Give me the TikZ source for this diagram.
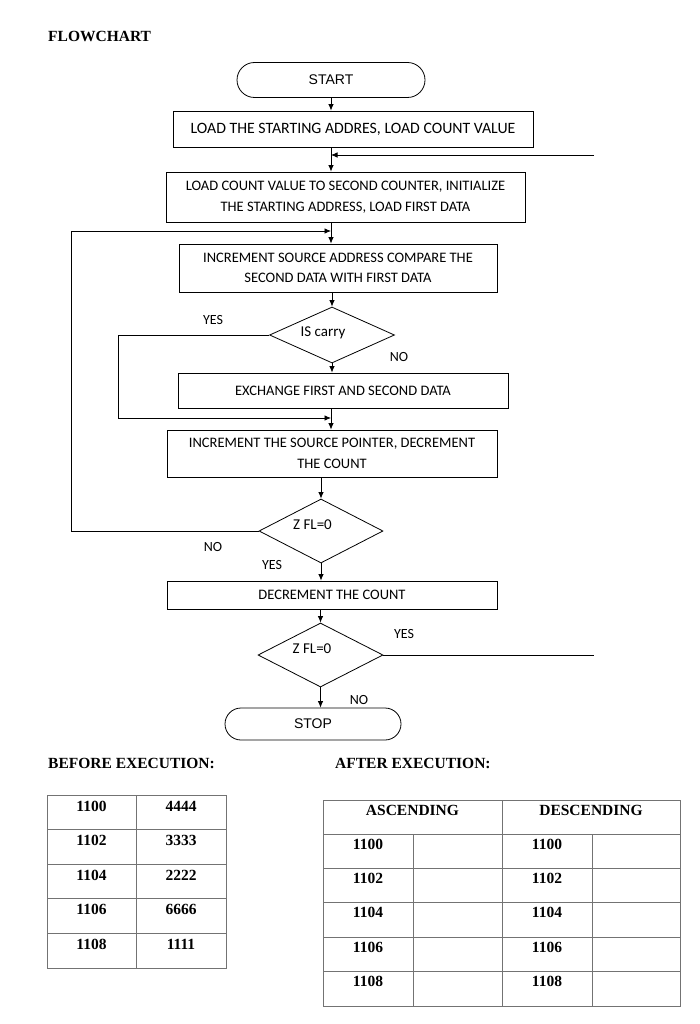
\documentclass[tikz,border=0pt]{standalone}
\usepackage{fontspec}
\setmainfont{Liberation Serif}
\newfontfamily\calibfont{Carlito}
\newfontfamily\arialfont{Liberation Sans}
\usetikzlibrary{shapes.geometric,shapes.misc,arrows.meta}

\begin{document}
\begin{tikzpicture}[x=1pt,y=-1pt,
  every node/.style={inner sep=0pt},
  heading/.style={font=\bfseries\fontsize{15.5}{18}\selectfont},
  box/.style={draw,rectangle,line width=0.8pt,align=center,font=\calibfont\fontsize{14.5}{20.5}\selectfont},
  dec/.style={draw,diamond,line width=0.8pt},
  dectext/.style={font=\calibfont\fontsize{15}{18}\selectfont},
  term/.style={draw,rounded rectangle,line width=0.8pt,font=\arialfont\fontsize{14}{16}\selectfont},
  lbl/.style={font=\calibfont\fontsize{14}{16}\selectfont},
  arr/.style={line width=0.8pt,-{Latex[length=6.5pt,width=5.5pt]}},
  grid/.style={draw=black!55,line width=0.8pt},
  cell/.style={font=\bfseries\fontsize{15.5}{18}\selectfont}]
  \useasboundingbox (0,0) rectangle (700,1024);
  \node[heading,anchor=west] (title) at (48,36) {FLOWCHART};

  \node[term,minimum width=188,minimum height=35] (start) at (331,80) {START};
  \node[box,minimum width=360,minimum height=36,font=\calibfont\fontsize{15.8}{19}\selectfont] (load) at (353,129) {LOAD THE STARTING ADDRES, LOAD COUNT VALUE};
  \node[box,minimum width=359,minimum height=50] (init) at (345.5,197) {LOAD COUNT VALUE TO SECOND COUNTER, INITIALIZE\\THE STARTING ADDRESS, LOAD FIRST DATA};
  \node[box,minimum width=318,minimum height=48] (cmp) at (338,268) {INCREMENT SOURCE ADDRESS COMPARE THE\\SECOND DATA WITH FIRST DATA};
  \node[dec,minimum width=125,minimum height=56] (carry) at (332,335) {};
  \node[dectext] (carryt) at ([shift={(-9,-2)}]carry.center) {IS carry};
  \node[box,minimum width=330,minimum height=35] (xchg) at (343,390.5) {EXCHANGE FIRST AND SECOND DATA};
  \node[box,minimum width=330,minimum height=47] (incr) at (332,453.5) {INCREMENT THE SOURCE POINTER, DECREMENT\\THE COUNT};
  \node[dec,minimum width=124,minimum height=64] (zf1) at (321,531) {};
  \node[dectext] (zf1t) at ([shift={(-8.5,-6)}]zf1.center) {Z FL=0};
  \node[box,minimum width=330,minimum height=28] (dcnt) at (332,595) {DECREMENT THE COUNT};
  \node[dec,minimum width=125,minimum height=64] (zf2) at (320.5,655) {};
  \node[dectext] (zf2t) at ([shift={(-8.5,-6)}]zf2.center) {Z FL=0};
  \node[term,minimum width=176,minimum height=32] (stop) at (313,724) {STOP};

  \coordinate (upper) at (331,0);
  \coordinate (back1) at (594,155);
  \coordinate (back2) at (594,656);
  \coordinate (loopin) at (331,231);
  \coordinate (skipin) at (331,418);
  \coordinate (loopx) at (71,0);
  \coordinate (skipx) at (118,0);

  \draw[arr] (start.south -| upper) -- (load.north -| upper);
  \draw[arr] (load.south -| upper) -- (init.north -| upper);
  \draw[arr] (back1) -- (back1 -| upper);
  \draw[arr] (init.south -| upper) -- (cmp.north -| upper);
  \draw[arr] (cmp.south -| carry) -- (carry.north);
  \draw[arr] (carry.south) -- (xchg.north -| carry);
  \draw[arr] (carry.west) -- (carry.west -| skipx) |- (skipin);
  \draw[arr] (xchg.south -| upper) -- (incr.north -| upper);
  \draw[arr] (incr.south -| zf1) -- (zf1.north);
  \draw[arr] (zf1.west) -- (zf1.west -| loopx) |- (loopin);
  \draw[arr] (zf1.south) -- (dcnt.north -| zf1);
  \draw[arr] (dcnt.south -| zf2) -- (zf2.north);
  \draw[line width=0.8pt] (zf2.east) -- (zf2.east -| back2);
  \draw[arr] (zf2.south) -- (stop.north -| zf2);

  \node[lbl] (yes1) at (213,320) {YES};
  \node[lbl] (no1) at (399,357) {NO};
  \node[lbl] (no2) at (213,547) {NO};
  \node[lbl] (yes2) at (272,565) {YES};
  \node[lbl] (yes3) at (404,634) {YES};
  \node[lbl] (no3) at (359,700) {NO};

  \node[heading,anchor=west] (before) at (48,763) {BEFORE EXECUTION:};
  \node[heading,anchor=west] (after) at (335,763) {AFTER EXECUTION:};

  \draw[grid] (47,795) rectangle (226,968);
  \draw[grid] (136,795) -- (136,968);
  \foreach \y in {829.6,864.2,898.8,933.4}
    \draw[grid] (47,\y) -- (226,\y);
  \foreach \a/\v [count=\k from 0] in {1100/4444,1102/3333,1104/2222,1106/6666,1108/1111} {
    \node[cell] (ba\k) at (91.5,806+34.6*\k) {\a};
    \node[cell] (bv\k) at (181,806+34.6*\k) {\v};
  }

  \draw[grid] (323,800) rectangle (680,1006);
  \draw[grid] (502,800) -- (502,1006);
  \foreach \x in {413,592}
    \draw[grid] (\x,834) -- (\x,1006);
  \foreach \y in {834,868.4,902.8,937.2,971.6}
    \draw[grid] (323,\y) -- (680,\y);
  \node[cell] (asc) at (412.5,810) {ASCENDING};
  \node[cell] (desc) at (591,810) {DESCENDING};
  \foreach \a [count=\k from 0] in {1100,1102,1104,1106,1108} {
    \node[cell] (aa\k) at (368,844+34.4*\k) {\a};
    \node[cell] (da\k) at (547,844+34.4*\k) {\a};
  }
\end{tikzpicture}
\end{document}
